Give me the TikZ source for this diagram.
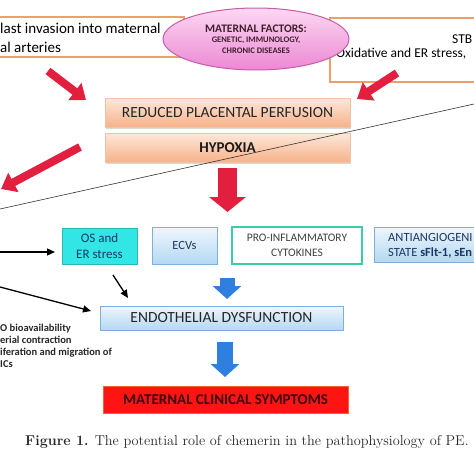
\documentclass[tikz,border=0pt]{standalone}
\usepackage{fontspec}
\setsansfont{Carlito}
\renewcommand{\familydefault}{\sfdefault}
\usetikzlibrary{arrows.meta,shapes.geometric,shadows}

\definecolor{framecol}{HTML}{F0A064}
\definecolor{pinktop}{HTML}{FCD8F2}
\definecolor{pinkbot}{HTML}{EC88D4}
\definecolor{pinkline}{HTML}{C45EA8}
\definecolor{peachtop}{HTML}{FDE8DA}
\definecolor{peachbot}{HTML}{F7B28A}
\definecolor{peachline}{HTML}{F2C2A4}
\definecolor{skytop}{HTML}{EEF6FD}
\definecolor{skybot}{HTML}{B4D8F2}
\definecolor{skyline}{HTML}{7FAFD6}
\definecolor{oscyan}{HTML}{33E6E6}
\definecolor{proline}{HTML}{3CCCA8}
\definecolor{redarr}{HTML}{E21F3E}
\definecolor{bluearr}{HTML}{2F7FE0}
\definecolor{navytext}{HTML}{1D3763}
\definecolor{symptred}{HTML}{FF1414}
\definecolor{symptext}{HTML}{3A0612}
\definecolor{ellipsetext}{HTML}{40202C}

\newcommand\fsz[2]{\fontsize{#1}{#2}\selectfont}

\begin{document}
\begin{tikzpicture}
  [x=1pt,y=-1pt,
   every node/.style={inner sep=0pt},
   framebox/.style={draw=framecol,line width=1.5pt,fill=white},
   peachbox/.style={draw=peachline,line width=.6pt,top color=peachtop,bottom color=peachbot,
     drop shadow={opacity=.3,shadow xshift=1pt,shadow yshift=-1.5pt}},
   skybox/.style={draw=skyline,line width=.8pt,top color=skytop,bottom color=skybot},
   redarrow/.style={draw=redarr,line width=8pt,-{Triangle[width=21pt,length=14pt]}},
   bigredarrow/.style={draw=redarr,line width=19pt,-{Triangle[width=36pt,length=15pt]}},
   bluearrow/.style={draw=bluearr,line width=15pt,-{Triangle[width=28pt,length=13pt]}},
   blackarrow/.style={line width=1.3pt,-{Triangle[width=7pt,length=8pt]}}]

  \useasboundingbox (0,0) rectangle (474,474);
  \clip (0,0) rectangle (474,474);

  % top row
  \node[framebox,minimum width=194pt,minimum height=40pt] (invasion) at (87,37) {};
  \node[anchor=base west,font=\fsz{15}{18}] (invline1) at (0,33) {last invasion into maternal};
  \node[anchor=base west,font=\fsz{15}{18}] (invline2) at (0,52) {al arteries};

  \node[framebox,minimum width=160pt,minimum height=64pt] (stb) at (410,50) {};
  \node[anchor=base west,font=\fsz{13.5}{16}] (stbtitle) at (452,43) {STB};
  \node[anchor=base west,font=\fsz{13.5}{16}] (stbstress) at (336,57) {Oxidative and ER stress,};

  \node[ellipse,draw=pinkline,line width=1pt,top color=pinktop,bottom color=pinkbot,
        minimum width=186pt,minimum height=62pt,align=center,text=ellipsetext,
        font=\fsz{8.5}{10.5}\bfseries] (matfactors) at (256,39)
    {{\fontsize{11.5}{10.5}\selectfont MATERNAL FACTORS:}\\GENETIC, IMMUNOLOGY,\\CHRONIC DISEASES};

  % placenta
  \node[peachbox,minimum width=245pt,minimum height=29pt,font=\fsz{15.5}{18},text=black!85]
    (perfusion) at (227.5,112.5) {REDUCED PLACENTAL PERFUSION};
  \node[peachbox,minimum width=245pt,minimum height=29pt,font=\fsz{15}{18}\bfseries,text=black!90]
    (hypoxia) at (227.5,147.5) {HYPOXIA};

  \draw[line width=.6pt,black!80] (0,209) coordinate (diagA) -- (474,104) coordinate (diagB);

  % middle row
  \node[draw=oscyan!80!black,line width=.6pt,fill=oscyan,minimum width=75pt,minimum height=36pt,
        align=center,font=\fsz{13}{16.5},text=navytext] (osstress) at (99.5,246) {OS and\\ER stress};
  \node[skybox,minimum width=65pt,minimum height=37pt,font=\fsz{12.5}{15},text=navytext]
    (ecvs) at (184.5,245.5) {ECVs};
  \node[draw=proline,line width=1.2pt,fill=white,minimum width=130pt,minimum height=37pt,
        align=center,font=\fsz{11.5}{15},text=black!75] (cytokines) at (297,245.5) {PRO-INFLAMMATORY\\CYTOKINES};
  \node[skybox,minimum width=116pt,minimum height=35pt] (antiangio) at (432,244.5) {};
  \node[anchor=base west,font=\fsz{12.5}{15},text=navytext] (antiline1) at (388,241) {ANTIANGIOGENI};
  \node[anchor=base west,font=\fsz{12.5}{15},text=navytext] (antiline2) at (388,256) {STATE \textbf{sFlt-1, sEn}};

  \node[skybox,minimum width=243pt,minimum height=24pt,font=\fsz{15.5}{18},text=black!85]
    (endo) at (221.5,318) {ENDOTHELIAL DYSFUNCTION};

  \foreach \txt/\yy in {O bioavailability/331,erial contraction/343,iferation and migration of/355,ICs/367}
    \node[anchor=base west,font=\fsz{10.5}{12}\bfseries,text=black!85] (effect\yy) at (0,\yy) {\txt};

  \node[draw=framecol!60!red,line width=.8pt,fill=symptred,minimum width=245pt,minimum height=27pt,
        font=\fsz{15}{18}\bfseries,text=symptext] (symptoms) at (225.5,399.5) {MATERNAL CLINICAL SYMPTOMS};

  \node[anchor=base west,font=\rmfamily\fsz{14.3}{17},text=black!85] (caption) at (25,445)
    {\textbf{Figure 1.} The potential role of chemerin in the pathophysiology of PE.};

  % arrows
  \coordinate (r1a) at (48,71);    \coordinate (r1b) at (86,100);
  \coordinate (r2a) at (397,73);   \coordinate (r2b) at (357,99);
  \coordinate (r3a) at (80,147);   \coordinate (r3b) at (1,189);
  \coordinate (bigtip) at (227.5,212);
  \draw[redarrow] (r1a) -- (r1b);
  \draw[redarrow] (r2a) -- (r2b);
  \draw[redarrow] (r3a) -- (r3b);
  \draw[bigredarrow] ([yshift=-6pt]hypoxia.south) -- (bigtip);

  \coordinate (b1a) at (227,278);  \coordinate (b1b) at (227,299);
  \coordinate (b2a) at (225,342);  \coordinate (b2b) at (225,377);
  \draw[bluearrow] (b1a) -- (b1b);
  \draw[bluearrow,line width=16pt] (b2a) -- (b2b);

  \coordinate (k1a) at (0,252);    \coordinate (k1b) at (55,252);
  \coordinate (k2a) at (113,275);  \coordinate (k2b) at (128,298);
  \coordinate (k3a) at (0,287);    \coordinate (k3b) at (91,311);
  \foreach \from/\to in {k1a/k1b,k2a/k2b,k3a/k3b}
    \draw[blackarrow] (\from) -- (\to);
\end{tikzpicture}
\end{document}
